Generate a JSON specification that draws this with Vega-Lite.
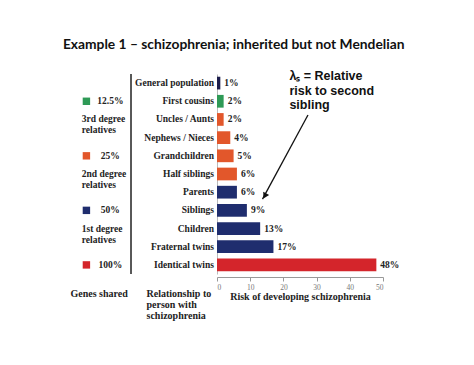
{
  "$schema": "https://vega.github.io/schema/vega-lite/v6.json",
  "background": "white",
  "padding": {"left": 62, "top": 38, "right": 5, "bottom": 5},
  "bounds": "flush",
  "spacing": 0,
  "title": {"text": "Example 1 – schizophrenia; inherited but not Mendelian", "font": "Lato", "fontSize": 13.8, "fontWeight": "bold", "color": "#111111", "anchor": "middle", "offset": 18},
  "config": {
    "view": {"stroke": null},
    "text": {"font": "Liberation Serif"},
    "axis": {"titleFont": "Liberation Serif", "labelFont": "Liberation Serif", "titleFontWeight": "bold", "titleFontSize": 10, "titleColor": "#222222", "grid": false}
  },
  "datasets": {
    "risk": [
      {"relation": "General population", "risk": 1, "label": "1%", "group": "none"},
      {"relation": "First cousins", "risk": 2, "label": "2%", "group": "3rd"},
      {"relation": "Uncles / Aunts", "risk": 2, "label": "2%", "group": "2nd"},
      {"relation": "Nephews / Nieces", "risk": 4, "label": "4%", "group": "2nd"},
      {"relation": "Grandchildren", "risk": 5, "label": "5%", "group": "2nd"},
      {"relation": "Half siblings", "risk": 6, "label": "6%", "group": "2nd"},
      {"relation": "Parents", "risk": 6, "label": "6%", "group": "1st"},
      {"relation": "Siblings", "risk": 9, "label": "9%", "group": "1st"},
      {"relation": "Children", "risk": 13, "label": "13%", "group": "1st"},
      {"relation": "Fraternal twins", "risk": 17, "label": "17%", "group": "1st"},
      {"relation": "Identical twins", "risk": 48, "label": "48%", "group": "twin"}
    ],
    "genes": [
      {"relation": "First cousins", "share": "12.5%", "group": "3rd"},
      {"relation": "Grandchildren", "share": "25%", "group": "2nd"},
      {"relation": "Siblings", "share": "50%", "group": "1st"},
      {"relation": "Identical twins", "share": "100%", "group": "twin"}
    ],
    "degrees": [
      {"relation": "Uncles / Aunts", "label": "3rd degree\nrelatives"},
      {"relation": "Half siblings", "label": "2nd degree\nrelatives"},
      {"relation": "Children", "label": "1st degree\nrelatives"}
    ]
  },
  "hconcat": [
    {
      "width": 64,
      "height": 200,
      "data": {"name": "genes"},
      "layer": [
        {
          "mark": {"type": "rule", "color": "#555555", "strokeWidth": 1.2},
          "encoding": {
            "x": {"datum": 64, "type": "quantitative", "scale": {"domain": [0, 64]}, "axis": {"title": "Genes shared", "labels": false, "ticks": false, "domain": false, "titleAnchor": "start", "titleAlign": "left", "titleX": 2, "titlePadding": 14}}
          }
        },
        {
          "mark": {"type": "point", "shape": "square", "filled": true, "size": 55, "opacity": 1},
          "encoding": {
            "x": {"datum": 18.7, "type": "quantitative"},
            "y": {"field": "relation", "type": "nominal", "scale": {"domain": ["General population", "First cousins", "Uncles / Aunts", "Nephews / Nieces", "Grandchildren", "Half siblings", "Parents", "Siblings", "Children", "Fraternal twins", "Identical twins"], "paddingInner": 0.3, "paddingOuter": 0.15}, "axis": null},
            "color": {"field": "group", "type": "nominal", "scale": {"domain": ["none", "3rd", "2nd", "1st", "twin"], "range": ["#1b1d4c", "#2e9a56", "#e2572b", "#1f2d6e", "#d4252b"]}, "legend": null}
          }
        },
        {
          "mark": {"type": "text", "fontWeight": "bold", "fontSize": 9.5, "align": "center", "color": "#222222"},
          "encoding": {
            "x": {"datum": 43, "type": "quantitative"},
            "y": {"field": "relation", "type": "nominal"},
            "text": {"field": "share"}
          }
        },
        {
          "data": {"name": "degrees"},
          "mark": {"type": "text", "fontWeight": "bold", "fontSize": 9.5, "align": "left", "baseline": "middle", "lineBreak": "\n", "lineHeight": 11, "color": "#222222"},
          "encoding": {
            "x": {"datum": 14, "type": "quantitative"},
            "y": {"field": "relation", "type": "nominal"},
            "text": {"field": "label"}
          }
        }
      ]
    },
    {
      "width": 85,
      "height": 200,
      "data": {"name": "risk"},
      "mark": {"type": "text", "fontWeight": "bold", "fontSize": 9.5, "align": "right", "baseline": "middle", "color": "#222222"},
      "encoding": {
        "x": {"datum": 82, "type": "quantitative", "scale": {"domain": [0, 85]}, "axis": {"title": ["Relationship to", "person with", "schizophrenia"], "labels": false, "ticks": false, "domain": false, "titleAnchor": "start", "titleAlign": "left", "titleX": 14, "titlePadding": 14, "titleLineHeight": 11}},
        "y": {"field": "relation", "type": "nominal", "scale": {"domain": ["General population", "First cousins", "Uncles / Aunts", "Nephews / Nieces", "Grandchildren", "Half siblings", "Parents", "Siblings", "Children", "Fraternal twins", "Identical twins"], "paddingInner": 0.3, "paddingOuter": 0.15}, "axis": null},
        "text": {"field": "relation"}
      }
    },
    {
      "width": 166,
      "height": 200,
      "data": {"name": "risk"},
      "layer": [
        {
          "mark": {"type": "bar"},
          "encoding": {
            "x": {"field": "risk", "type": "quantitative", "scale": {"domain": [0, 50]}, "axis": {"title": "Risk of developing schizophrenia", "values": [0, 10, 20, 30, 40, 50], "tickCount": 6, "labelOverlap": false, "labelFontSize": 7.5, "labelColor": "#777777", "tickColor": "#999999", "domainColor": "#999999", "tickSize": 4, "labelPadding": 2, "titlePadding": 1, "offset": 3}},
            "y": {"field": "relation", "type": "nominal", "scale": {"domain": ["General population", "First cousins", "Uncles / Aunts", "Nephews / Nieces", "Grandchildren", "Half siblings", "Parents", "Siblings", "Children", "Fraternal twins", "Identical twins"], "paddingInner": 0.3, "paddingOuter": 0.15}, "axis": {"title": null, "labels": false, "ticks": false, "domainColor": "#bbbbbb"}},
            "color": {"field": "group", "type": "nominal", "scale": {"domain": ["none", "3rd", "2nd", "1st", "twin"], "range": ["#1b1d4c", "#2e9a56", "#e2572b", "#1f2d6e", "#d4252b"]}, "legend": null}
          }
        },
        {
          "mark": {"type": "text", "fontWeight": "bold", "fontSize": 9.5, "align": "left", "baseline": "middle", "dx": 4, "color": "#222222"},
          "encoding": {
            "x": {"field": "risk", "type": "quantitative", "axis": {"title": "Risk of developing schizophrenia", "values": [0, 10, 20, 30, 40, 50], "tickCount": 6, "labelOverlap": false, "labelFontSize": 7.5, "labelColor": "#777777", "tickColor": "#999999", "domainColor": "#999999", "tickSize": 4, "labelPadding": 2, "titlePadding": 1, "offset": 3}},
            "y": {"field": "relation", "type": "nominal"},
            "text": {"field": "label"}
          }
        },
        {
          "data": {"values": [{"note": "λₛ = Relative\nrisk to second\nsibling"}]},
          "mark": {"type": "text", "font": "Liberation Sans", "fontWeight": "bold", "fontSize": 12.5, "align": "left", "baseline": "middle", "lineBreak": "\n", "lineHeight": 14.5, "dy": -7, "color": "#111111"},
          "encoding": {
            "x": {"datum": 21.8, "type": "quantitative", "axis": {"title": "Risk of developing schizophrenia", "values": [0, 10, 20, 30, 40, 50], "tickCount": 6, "labelOverlap": false, "labelFontSize": 7.5, "labelColor": "#777777", "tickColor": "#999999", "domainColor": "#999999", "tickSize": 4, "labelPadding": 2, "titlePadding": 1, "offset": 3}},
            "y": {"datum": "General population", "type": "nominal"},
            "text": {"field": "note"}
          }
        },
        {
          "data": {"values": [{"arrow": "lambda"}]},
          "mark": {"type": "rule", "color": "#111111", "strokeWidth": 1.3},
          "encoding": {
            "x": {"datum": 27.4, "type": "quantitative", "axis": {"title": "Risk of developing schizophrenia", "values": [0, 10, 20, 30, 40, 50], "tickCount": 6, "labelOverlap": false, "labelFontSize": 7.5, "labelColor": "#777777", "tickColor": "#999999", "domainColor": "#999999", "tickSize": 4, "labelPadding": 2, "titlePadding": 1, "offset": 3}},
            "x2": {"datum": 13.7},
            "y": {"datum": "Uncles / Aunts", "type": "nominal", "bandPosition": 0.15},
            "y2": {"datum": "Parents", "bandPosition": 1.05}
          }
        },
        {
          "data": {"values": [{"arrow": "lambda"}]},
          "mark": {"type": "point", "shape": "triangle-down", "filled": true, "size": 45, "angle": 28, "color": "#111111", "opacity": 1},
          "encoding": {
            "x": {"datum": 14.4, "type": "quantitative", "axis": {"title": "Risk of developing schizophrenia", "values": [0, 10, 20, 30, 40, 50], "tickCount": 6, "labelOverlap": false, "labelFontSize": 7.5, "labelColor": "#777777", "tickColor": "#999999", "domainColor": "#999999", "tickSize": 4, "labelPadding": 2, "titlePadding": 1, "offset": 3}},
            "y": {"datum": "Parents", "type": "nominal", "bandPosition": 0.8}
          }
        }
      ]
    }
  ]
}
